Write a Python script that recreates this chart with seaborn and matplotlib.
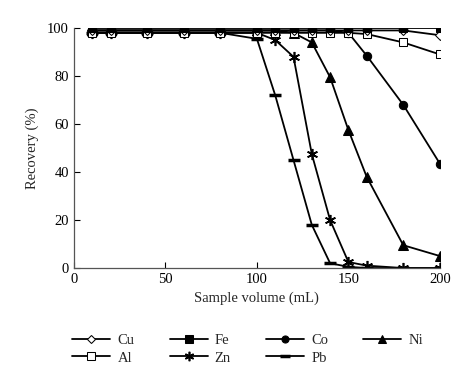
import matplotlib
matplotlib.use("Agg")
import matplotlib.pyplot as plt
import seaborn as sns
import pandas as pd

# sample volume (mL)
volume = [10, 20, 40, 60, 80, 100, 110, 120, 130, 140, 150, 160, 180, 200]

# recovery (%) per metal
cu = [99, 99, 99, 99, 99, 99, 99, 99, 99, 99, 99, 99, 99, 97]
fe = [100, 100, 100, 100, 100, 100, 100, 100, 100, 100, 100, 100, 100, 100]
co = [99, 99, 99, 99, 99, 99, 99, 99, 99, 99, 98, 88.5, 68, 43.5]
ni = [99, 99, 99, 99, 99, 99, 99, 98, 94, 79.5, 57.5, 38, 9.5, 5]
al = [98, 98, 98, 98, 98, 98, 98, 98, 98, 98, 98, 97.5, 94, 89]
zn = [98, 98, 98, 98, 98, 98, 95, 88, 47.5, 20, 2.5, 1, 0, 0]
pb = [98, 98, 98, 98, 98, 95.5, 72, 45, 18, 2, 0.5, 0, 0, 0]

series = {"Cu": cu, "Fe": fe, "Co": co, "Ni": ni, "Al": al, "Zn": zn, "Pb": pb}
styles = {
    "Cu": dict(marker="D", mfc="white", ms=5),
    "Fe": dict(marker="s", mfc="black", ms=6),
    "Co": dict(marker="o", mfc="black", ms=6),
    "Ni": dict(marker="^", mfc="black", ms=7),
    "Al": dict(marker="s", mfc="white", ms=6),
    "Zn": dict(marker=(6, 2, 0), mfc="black", ms=8, mew=1.2),
    "Pb": dict(marker="_", mfc="black", ms=9, mew=2.5),
}

sns.set_style("ticks")
plt.rcParams["font.family"] = ["Liberation Serif", "DejaVu Serif"]

fig = plt.figure(figsize=(4.74, 3.84), dpi=100)
ax = fig.add_axes([0.156, 0.302, 0.772, 0.625])

handles = {}
for name in ["Pb", "Zn", "Ni", "Co", "Al", "Cu", "Fe"]:
    df = pd.DataFrame({"x": volume, "y": series[name]})
    sns.lineplot(data=df, x="x", y="y", ax=ax, color="black", lw=1.3,
                 mec="black", legend=False, **styles[name])
    handles[name] = ax.lines[-1]

ax.set_xlim(0, 200)
ax.set_ylim(0, 100)
ax.set_xticks([0, 50, 100, 150, 200])
ax.set_yticks([0, 20, 40, 60, 80, 100])
ax.tick_params(direction="in", length=4, labelsize=10.5, colors="black")
for s in ["top", "right"]:
    ax.spines[s].set_visible(False)
for s in ["left", "bottom"]:
    ax.spines[s].set_color("#555555")
    ax.spines[s].set_linewidth(0.9)
ax.set_xlabel("Sample volume (mL)", fontsize=10.5, labelpad=4)
ax.set_ylabel("Recovery (%)", fontsize=10.5, labelpad=6)

order = ["Cu", "Al", "Fe", "Zn", "Co", "Pb", "Ni"]
fig.legend([handles[n] for n in order], order, ncol=4, frameon=False,
           loc="upper left", bbox_to_anchor=(0.125, 0.165), fontsize=10.5,
           handlelength=2.6, columnspacing=2.4, handletextpad=0.5,
           labelspacing=0.3, markerscale=0.85)

fig.savefig("out.png", dpi=100)
